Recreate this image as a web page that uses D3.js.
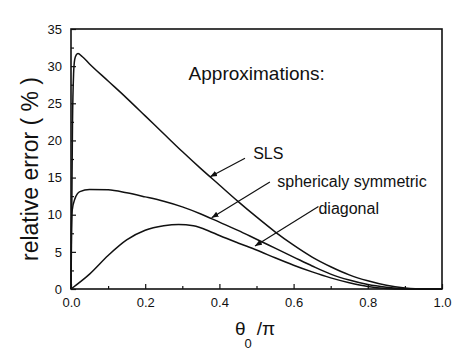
<!DOCTYPE html>
<html><head><meta charset="utf-8">
<script src="https://cdn.jsdelivr.net/npm/d3@7"></script>
<style>
html,body{margin:0;padding:0;background:#fff;}
svg{display:block;font-family:"Liberation Sans",Arial,Helvetica,sans-serif;}
</style></head>
<body>
<svg id="chart" width="474" height="356"></svg>
<script>
// ---- data (x = theta0/pi, y = relative error %) ----
const slsX = [0, 0.002, 0.004, 0.007, 0.010, 0.014, 0.019, 0.03, 0.05, 0.10, 0.15, 0.20, 0.25, 0.30, 0.35, 0.40, 0.45, 0.50, 0.55, 0.60, 0.65, 0.70, 0.75, 0.80, 0.85, 0.90, 0.95, 1.0];
const slsY = [0, 10, 22, 29, 30.9, 31.5, 31.7, 31.3, 30.3, 28.0, 25.7, 23.3, 20.9, 18.5, 16.2, 14.0, 11.8, 9.7, 7.7, 5.9, 4.3, 3.0, 1.9, 1.1, 0.5, 0.15, 0.0, 0.0];
const sphX = [0, 0.001, 0.003, 0.011, 0.024, 0.05, 0.10, 0.15, 0.20, 0.25, 0.30, 0.35, 0.40, 0.45, 0.50, 0.55, 0.60, 0.65, 0.70, 0.75, 0.80, 0.85, 0.90, 0.95, 1.0];
const sphY = [0, 8, 10.5, 12.2, 13.1, 13.4, 13.35, 12.95, 12.4, 11.8, 11.05, 10.1, 9.0, 7.9, 6.7, 5.5, 4.3, 3.1, 2.0, 1.2, 0.6, 0.25, 0.05, 0.0, 0.0];
const diaX = [0, 0.05, 0.10, 0.15, 0.20, 0.25, 0.29, 0.33, 0.37, 0.40, 0.45, 0.50, 0.55, 0.60, 0.65, 0.70, 0.75, 0.80, 0.85, 0.90, 1.0];
const diaY = [0, 2.0, 4.5, 6.6, 7.9, 8.5, 8.68, 8.5, 7.85, 7.2, 6.2, 5.25, 4.2, 3.2, 2.3, 1.5, 0.85, 0.35, 0.08, 0.0, 0.0];

const xTicks = [0, 0.2, 0.4, 0.6, 0.8, 1.0];
const xMinor = [0.1, 0.3, 0.5, 0.7, 0.9];
const yTicks = [0, 5, 10, 15, 20, 25, 30, 35];
const yMinor = [2.5, 7.5, 12.5, 17.5, 22.5, 27.5, 32.5];

// annotations: label, text pos, arrow tail, arrow tip (data units)
const annLabels = ["SLS", "sphericaly symmetric", "diagonal"];
const annText = [[0.491, 17.5], [0.556, 13.75], [0.667, 10.1]];
const annTail = [[0.469, 17.6], [0.536, 14.4], [0.667, 11.1]];
const annTip = [[0.375, 15.1], [0.379, 9.6], [0.496, 5.8]];

// ---- drawing ----
const svg = d3.select("#chart");
const L = 71, R = 442, T = 29, B = 289;
const x = d3.scaleLinear().domain([0, 1]).range([L, R]);
const y = d3.scaleLinear().domain([0, 35]).range([B, T]);
const ink = "#111";

svg.append("defs").append("marker")
  .attr("id", "ah").attr("viewBox", "0 0 10 10").attr("refX", 10).attr("refY", 5)
  .attr("markerWidth", 7).attr("markerHeight", 7).attr("markerUnits", "userSpaceOnUse")
  .attr("orient", "auto")
  .append("path").attr("d", "M0,1 L10,5 L0,9 Z").attr("fill", ink);

// axes (ticks inward)
const xAxis = d3.axisBottom(x).tickValues(xTicks).tickFormat(d3.format(".1f")).tickSizeInner(-5).tickSizeOuter(0);
const gx = svg.append("g").attr("transform", `translate(0,${B})`).call(xAxis);
gx.select(".domain").remove();
gx.selectAll("line").attr("stroke", ink).attr("stroke-width", 1.2);
gx.selectAll("text").attr("fill", ink).attr("font-size", 13).attr("y", 9).attr("dy", "0.71em");
const gxm = svg.append("g").attr("transform", `translate(0,${B})`)
  .call(d3.axisBottom(x).tickValues(xMinor).tickFormat("").tickSizeInner(-3).tickSizeOuter(0));
gxm.select(".domain").remove();
gxm.selectAll("line").attr("stroke", ink).attr("stroke-width", 1.2);

const yAxis = d3.axisLeft(y).tickValues(yTicks).tickFormat(d3.format("d")).tickSizeInner(-5).tickSizeOuter(0);
const gy = svg.append("g").attr("transform", `translate(${L},0)`).call(yAxis);
gy.select(".domain").remove();
gy.selectAll("line").attr("stroke", ink).attr("stroke-width", 1.2);
gy.selectAll("text").attr("fill", ink).attr("font-size", 13).attr("x", -9);
const gym = svg.append("g").attr("transform", `translate(${L},0)`)
  .call(d3.axisLeft(y).tickValues(yMinor).tickFormat("").tickSizeInner(-3).tickSizeOuter(0));
gym.select(".domain").remove();
gym.selectAll("line").attr("stroke", ink).attr("stroke-width", 1.2);

// frame
svg.append("rect").attr("x", L).attr("y", T).attr("width", R - L).attr("height", B - T)
  .attr("fill", "none").attr("stroke", ink).attr("stroke-width", 1.6);

// curves
const line = d3.line().x(d => x(d[0])).y(d => y(d[1])).curve(d3.curveMonotoneX);
const series = [[slsX, slsY], [sphX, sphY], [diaX, diaY]];
series.forEach(([xs, ys]) => {
  svg.append("path").datum(xs.map((v, i) => [v, ys[i]]))
    .attr("d", line).attr("fill", "none").attr("stroke", ink).attr("stroke-width", 1.5);
});

// annotations
annLabels.forEach((lab, i) => {
  svg.append("line")
    .attr("x1", x(annTail[i][0])).attr("y1", y(annTail[i][1]))
    .attr("x2", x(annTip[i][0])).attr("y2", y(annTip[i][1]))
    .attr("stroke", ink).attr("stroke-width", 1.2).attr("marker-end", "url(#ah)");
  svg.append("text").attr("x", x(annText[i][0])).attr("y", y(annText[i][1]))
    .attr("font-size", 16).attr("fill", ink).text(lab);
});
svg.append("text").attr("x", x(0.317)).attr("y", y(28.2)).attr("font-size", 19).attr("fill", ink).text("Approximations:");

// axis titles
const xt = svg.append("text").attr("x", 235).attr("y", 335).attr("font-size", 19).attr("fill", ink);
xt.append("tspan").text("θ");
xt.append("tspan").attr("font-size", 13).attr("dy", 13).attr("dx", -1).text("0");
xt.append("tspan").attr("dy", -13).attr("dx", 5).text("/π");

svg.append("text").attr("transform", "translate(38,169) rotate(-90)")
  .attr("text-anchor", "middle").attr("font-size", 23).attr("fill", ink)
  .attr("xml:space", "preserve").text("relative error ( % )");
</script>
</body></html>
